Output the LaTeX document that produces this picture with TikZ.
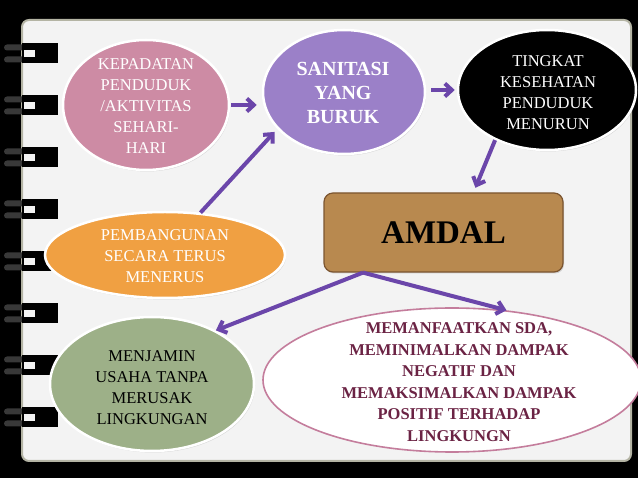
\documentclass[tikz,border=0pt]{standalone}
\usepackage{fontspec}
\setmainfont{Liberation Serif}
\usetikzlibrary{shapes.geometric,arrows.meta,shadows}
\definecolor{paperc}{HTML}{F3F3F3}
\definecolor{paperedge}{HTML}{B4B4A4}
\definecolor{pinkc}{HTML}{CD8BA4}
\definecolor{purplec}{HTML}{9B80C8}
\definecolor{orangec}{HTML}{F0A042}
\definecolor{greenc}{HTML}{9DB088}
\definecolor{arrowc}{HTML}{6B46AA}
\definecolor{maroonc}{HTML}{6B2344}
\definecolor{memborder}{HTML}{C47D9C}
\definecolor{brownc}{HTML}{B8894F}
\definecolor{browndark}{HTML}{7C5530}
\definecolor{lobec}{HTML}{383838}
\tikzset{
  ell/.style={ellipse, inner sep=0pt, draw=white, line width=2.5pt,
    drop shadow={opacity=0.25, shadow xshift=1pt, shadow yshift=-1.5pt}},
  txt/.style={align=center, inner sep=0pt, font=\fontsize{16.5}{21}\selectfont},
  boldtxt/.style={align=center, inner sep=0pt, font=\bfseries\fontsize{16.5}{21.5}\selectfont},
  arr/.style={draw=arrowc, line width=4pt, -{Straight Barb[length=7pt,width=13pt]}},
  amdbox/.style={rectangle, rounded corners=9pt, fill=brownc, draw=browndark,
    line width=1.2pt, inner sep=0pt, minimum width=239pt, minimum height=79pt,
    font=\bfseries\fontsize{33}{36}\selectfont, text=black,
    drop shadow={opacity=0.3, shadow xshift=1pt, shadow yshift=-1.5pt}}
}
\begin{document}
\begin{tikzpicture}[x=1pt,y=-1pt]
\useasboundingbox (0,0) rectangle (638,478);
\fill[black] (0,0) rectangle (638,478);
% paper
\draw[fill=paperc, draw=paperedge, line width=2pt, rounded corners=7pt] (22,20) rectangle (631,461);
% spiral rings
\foreach \i in {0,...,7}{
  \pgfmathsetmacro\c{53.5+52*\i}
  \fill[lobec, rounded corners=3pt] (4,\c-9) rectangle (28,\c-3);
  \fill[lobec, rounded corners=3pt] (4,\c+3) rectangle (28,\c+9);
  \fill[black] (22,\c-10) rectangle (58,\c+10);
  \fill[paperc] (24,\c-3.5) rectangle (35,\c+3.5);
}
% nodes
\node[ell, fill=pinkc, minimum width=166pt, minimum height=130pt] (kep) at (146,105) {};
\node[txt, text=white] (kept) at (146,106) {KEPADATAN\\PENDUDUK\\/AKTIVITAS\\SEHARI-\\HARI};

\node[ell, fill=purplec, minimum width=162pt, minimum height=124pt] (san) at (344,92) {};
\node[align=center, inner sep=0pt, text=white, font=\bfseries\fontsize{20}{24}\selectfont] (sant) at (343,93) {SANITASI\\YANG\\BURUK};

\node[ell, fill=black, minimum width=178pt, minimum height=120pt] (tin) at (547,90) {};
\node[txt, text=white] (tint) at (548,93) {TINGKAT\\KESEHATAN\\PENDUDUK\\MENURUN};

\node[amdbox] (amd) at (443.5,232.5) {AMDAL};

\node[ell, fill=orangec, minimum width=240pt, minimum height=86pt] (pem) at (165,255) {};
\node[txt, text=white] (pemt) at (165,256) {PEMBANGUNAN\\SECARA TERUS\\MENERUS};

\node[ell, fill=greenc, minimum width=204pt, minimum height=134pt] (menj) at (152,384) {};
\node[txt, text=black] (menjt) at (152,388) {MENJAMIN\\USAHA TANPA\\MERUSAK\\LINGKUNGAN};

\node[ellipse, inner sep=0pt, fill=white, draw=memborder, line width=1.6pt,
  minimum width=378pt, minimum height=144pt] (mem) at (452,380) {};
\node[boldtxt, text=maroonc] (memt) at (459,382) {MEMANFAATKAN SDA,\\MEMINIMALKAN DAMPAK\\NEGATIF DAN\\MEMAKSIMALKAN DAMPAK\\POSITIF TERHADAP\\LINGKUNGN};

% connectors
\draw[arr] ([xshift=1pt]kep.east) -- ([xshift=-5pt]san.west |- kep.east);
\draw[arr, shorten >=4pt] (pem.50) -- (san.209);
\draw[arr] ([xshift=5pt]san.east |- tin.west) -- ([xshift=-2pt]tin.west);
\draw[arr, shorten >=5pt] (tin.224) -- ([xshift=30pt]amd.north);
\coordinate (amdb) at ([xshift=-80.5pt]amd.south);
\draw[arr] (amdb) -- (menj.40);
\draw[arr] (amdb) -- (mem.52);
\end{tikzpicture}
\end{document}
